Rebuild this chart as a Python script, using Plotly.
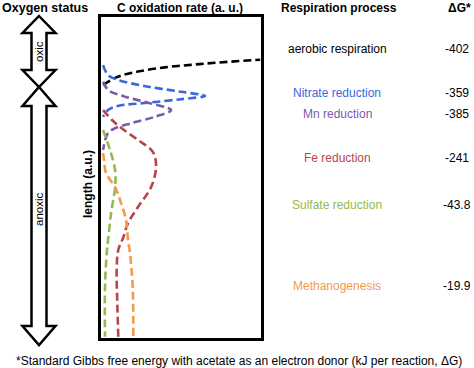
import plotly.graph_objects as go

W, H = 474, 368

# ---- data (rate in a.u. 0-100, depth in a.u. 0-100 from top) ----
processes = ["aerobic respiration", "Nitrate reduction", "Mn reduction",
             "Fe reduction", "Sulfate reduction", "Methanogenesis"]
delta_g = ["-402", "-359", "-385", "-241", "-43.8", "-19.9"]
colors = ["#000000", "#3a66e0", "#7a5ca6", "#b8454a", "#92bb4c", "#f29a4a"]

aerobic_rate = [1.3, 10.6, 23.1, 39.8, 56.3, 73.1, 99.5]
aerobic_depth = [21.2, 18.6, 17.0, 15.7, 14.9, 14.2, 13.3]

nitrate_rate = [1.3, 4.4, 10.6, 29.4, 50.0, 65.0, 50.0, 29.4, 10.6, 4.4, 1.3]
nitrate_depth = [15.0, 18.1, 19.6, 21.7, 23.3, 24.6, 25.6, 26.7, 27.7, 29.0, 31.1]

mn_rate = [1.3, 4.4, 14.8, 29.4, 43.8, 33.6, 18.8, 8.6, 4.4, 1.3]
mn_depth = [20.2, 22.7, 24.8, 26.7, 29.0, 31.1, 33.1, 34.7, 36.1, 41.4]

fe_rate = [1.3, 6.9, 11.9, 23.1, 32.5, 34.4, 31.3, 23.1, 16.9, 13.8, 10.8, 9.8, 10.2, 10.8]
fe_depth = [29.0, 32.1, 34.3, 38.3, 42.1, 46.7, 53.0, 59.2, 64.2, 68.8, 72.6, 78.8, 89.1, 99.6]

sulfate_rate = [1.3, 5.6, 8.8, 8.8, 6.3, 4.4, 3.6, 2.5, 2.5]
sulfate_depth = [35.2, 41.4, 47.7, 53.0, 61.1, 69.5, 73.5, 84.0, 99.6]

methano_rate = [1.3, 1.9, 3.1, 8.8, 12.5, 15.6, 16.9, 18.1, 19.8, 20.2]
methano_depth = [42.4, 44.5, 48.6, 53.0, 57.9, 63.2, 69.5, 73.5, 84.0, 99.6]

curves = [(aerobic_rate, aerobic_depth), (nitrate_rate, nitrate_depth),
          (mn_rate, mn_depth), (fe_rate, fe_depth),
          (sulfate_rate, sulfate_depth), (methano_rate, methano_depth)]

# label depths (layout)
label_depth = [10.0, 23.7, 30.2, 43.9, 58.6, 83.8]

FONT = "Liberation Sans, Arial, sans-serif"

fig = go.Figure()
for (r, d), c in zip(curves, colors):
    fig.add_trace(go.Scatter(x=r, y=d, mode="lines",
                             line=dict(color=c, width=2.6, dash="8px,4px",
                                       shape="spline", smoothing=1.0),
                             hoverinfo="skip", showlegend=False))

def px(x):
    return x / W

def py(y):
    return 1 - y / H

def txt(text, x, y, size=12, color="#000000", yref="paper", angle=0):
    return dict(text=text, x=px(x), y=(py(y) if yref == "paper" else y),
                xref="paper", yref=yref, xanchor="center", yanchor="middle",
                showarrow=False, textangle=angle,
                font=dict(family=FONT, size=size, color=color))

ann = [
    txt("<b>Oxygen status</b>", 45, 8, size=12.5),
    txt("<b>C oxidation rate (a. u.)</b>", 180, 8),
    txt("<b>Respiration process</b>", 339, 8),
    txt("<b>\u0394G*</b>", 459, 8),
]
for name, dg, c, ld in zip(processes, delta_g, colors, label_depth):
    ann.append(txt(name, 337, ld, size=12, color=c, yref="y"))
    ann.append(txt(dg, 457, ld, size=12, yref="y"))

ann.append(txt("<b>length (a.u.)</b>", 88, 184, size=12, angle=-90))
ann.append(txt("oxic", 39, 52, size=11.5, angle=-90))
ann.append(txt("anoxic", 39, 210, size=11.5, angle=-90))
ann.append(txt("*Standard Gibbs free energy with acetate as an electron donor (kJ per reaction, \u0394G)",
               239, 361, size=12))

def arrow_path(top, bot, cx=39, hw=16.5, sw=7.5, hl=17):
    pts = [(cx, top), (cx + hw, top + hl), (cx + sw, top + hl), (cx + sw, bot - hl),
           (cx + hw, bot - hl), (cx, bot), (cx - hw, bot - hl), (cx - sw, bot - hl),
           (cx - sw, top + hl), (cx - hw, top + hl)]
    return "M " + " L ".join(f"{px(x):.5f},{py(y):.5f}" for x, y in pts) + " Z"

shapes = [
    dict(type="path", path=arrow_path(16, 87), xref="paper", yref="paper",
         line=dict(color="black", width=2.5), fillcolor="white", layer="below"),
    dict(type="path", path=arrow_path(87, 345, hl=19), xref="paper", yref="paper",
         line=dict(color="black", width=2.5), fillcolor="white", layer="below"),
]

fig.update_layout(
    width=W, height=H,
    margin=dict(l=0, r=0, t=0, b=0),
    paper_bgcolor="white", plot_bgcolor="white",
    annotations=ann, shapes=shapes,
    xaxis=dict(domain=[px(101), px(261)], range=[0, 100], showgrid=False,
               zeroline=False, showticklabels=False, ticks="",
               showline=True, mirror=True, linecolor="black", linewidth=3),
    yaxis=dict(domain=[py(338), py(17)], range=[100, 0], showgrid=False,
               zeroline=False, showticklabels=False, ticks="",
               showline=True, mirror=True, linecolor="black", linewidth=3),
)

fig.write_html("out.html", config={"displayModeBar": False},
               post_script="document.body.style.margin='0';document.body.style.overflow='hidden';")
